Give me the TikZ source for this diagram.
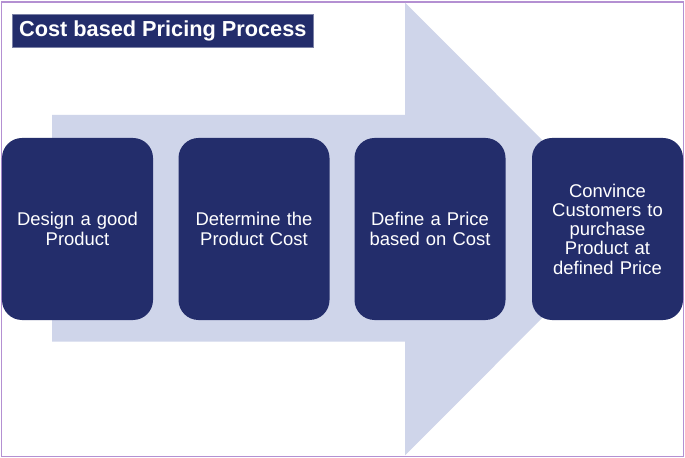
\documentclass[tikz,border=0pt]{standalone}
\usepackage{fontspec}
\setmainfont{Liberation Sans}
\definecolor{navy}{HTML}{232D6B}
\definecolor{arrowfill}{HTML}{CFD5EA}
\definecolor{framecol}{HTML}{B490D2}
\begin{document}
\begin{tikzpicture}[x=1bp,y=-1bp,
  stepbox/.style={fill=navy, rounded corners=20bp, minimum width=151bp, minimum height=182bp,
    text width=142bp, align=center, text=white, inner sep=0pt,
    font=\fontsize{18.5}{19.3}\selectfont},
  titlebox/.style={fill=navy, draw=navy!60!white, line width=0.6bp, minimum width=300.5bp, minimum height=33.5bp,
    inner sep=0pt, text=white, font=\bfseries\fontsize{21.8}{24}\selectfont}]
\useasboundingbox (0,0) rectangle (685,458);
\fill[white] (0,0) rectangle (685,458);
\draw[framecol, line width=1.2bp] (1.5,2) rectangle (683.5,456.5);
\fill[arrowfill] (52,115) -- (405,115) -- (405,2.6) -- (631,229) -- (405,455.4) -- (405,341.5) -- (52,341.5) -- cycle;
\node[stepbox] (s1) at (77.5,229) {Design a good\\Product};
\node[stepbox] (s2) at (254,229) {Determine the\\Product Cost};
\node[stepbox] (s3) at (430,229) {Define a Price\\based on Cost};
\node[stepbox] (s4) at (607.5,229) {Convince\\Customers to\\purchase\\Product at\\defined Price};
\node[titlebox] (title) at (162.8,30.8) {Cost based Pricing Process};
\end{tikzpicture}
\end{document}
